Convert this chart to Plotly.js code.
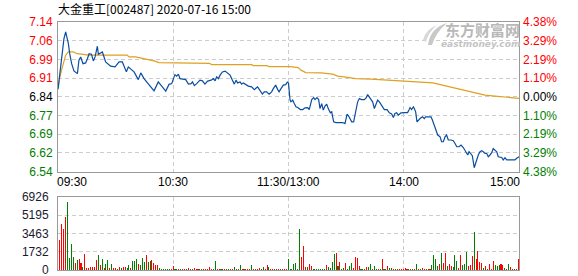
<!DOCTYPE html>
<html>
<head>
<meta charset="utf-8">
<script src="https://cdn.plot.ly/plotly-3.0.1.min.js"></script>
<style>
html,body{margin:0;padding:0;background:#fff;}
#chart{width:578px;height:276px;}
</style>
</head>
<body>
<div id="chart"></div>
<script>
// ---- data (minutes from 09:30; 120 = 11:30/13:00, 240 = 15:00) ----
const titleText = "大金重工[002487] 2020-07-16 15:00";
const prevClose = 6.84;

const priceTimes = [0,1.4,2.3,3.1,4.0,5.4,6.1,7.1,8.3,10.1,10.9,11.8,13.0,14.4,15.3,16.2,17.4,18.4,19.3,20.5,21.0,23.1,24.8,27.4,29.7,31.8,33.5,35.6,36.6,39.6,41.8,43.1,44.8,47.7,50.0,52.2,54.3,56.1,57.8,
59.2,60.1,60.9,61.8,62.7,63.5,65.3,66.5,67.9,69.3,70.0,71.0,72.2,73.9,75.2,76.5,77.9,79.7,80.9,81.8,82.6,83.5,84.4,85.6,87.0,88.2,89.6,90.8,91.8,92.7,93.5,94.8,95.6,96.5,97.7,99.1,100.8,102.2,103.9,105.2,106.4,107.4,108.6,109.9,111.2,112.1,113.3,114.4,115.1,116.1,117.3,118.5,119.4,120.0,120.3,120.8,
121.3,122.2,123.0,123.9,124.8,126.2,127.4,128.6,130.0,130.8,132.1,133.1,133.8,134.8,135.7,136.4,137.3,138.1,139.0,139.9,140.7,141.8,142.5,143.5,144.7,146.5,148.2,149.4,150.5,151.3,152.2,152.9,153.9,155.1,156.0,156.9,158.1,159.5,160.5,161.2,162.1,163.0,163.8,164.7,165.6,166.4,167.3,168.5,169.9,171.3,172.5,173.7,174.6,175.4,176.3,177.2,178.6,
180.6,182.0,182.7,183.3,184.1,185.0,185.5,186.2,186.9,187.6,188.5,189.7,190.7,191.4,194.2,194.9,195.7,196.6,197.7,198.9,199.7,200.6,201.5,202.3,203.2,204.6,205.8,206.7,207.6,208.8,209.8,211.0,212.2,213.3,214.0,214.8,215.7,216.2,216.7,217.4,218.1,218.8,219.7,220.6,221.4,222.3,223.2,224.0,224.9,225.8,226.6,227.5,228.4,229.2,230.3,231.0,231.8,232.7,233.6,234.5,237.9,238.8,239.7,240];
const prices = [6.870,6.953,7.013,7.073,7.100,7.053,7.013,6.973,6.944,6.933,6.987,7.000,6.973,6.976,6.993,7.013,7.011,6.984,7.000,7.043,7.011,7.020,6.980,6.963,6.960,6.980,6.980,6.940,6.960,6.940,6.909,6.936,6.913,6.887,6.864,6.900,6.880,6.863,6.890,
6.893,6.913,6.929,6.923,6.931,6.913,6.909,6.909,6.891,6.893,6.900,6.885,6.893,6.907,6.904,6.891,6.903,6.907,6.913,6.904,6.920,6.913,6.927,6.940,6.943,6.934,6.927,6.907,6.891,6.907,6.896,6.900,6.891,6.896,6.891,6.883,6.880,6.869,6.880,6.867,6.851,6.860,6.860,6.851,6.860,6.873,6.887,6.869,6.860,6.873,6.887,6.889,6.899,6.895,6.847,6.827,
6.820,6.827,6.813,6.800,6.797,6.789,6.789,6.796,6.797,6.789,6.829,6.837,6.829,6.837,6.829,6.793,6.813,6.787,6.803,6.811,6.793,6.776,6.780,6.740,6.737,6.737,6.737,6.733,6.771,6.763,6.753,6.740,6.740,6.787,6.820,6.833,6.829,6.829,6.837,6.849,6.840,6.829,6.820,6.793,6.813,6.827,6.820,6.807,6.789,6.789,6.776,6.771,6.757,6.773,6.776,6.767,6.776,
6.777,6.777,6.787,6.797,6.789,6.800,6.793,6.780,6.740,6.747,6.753,6.760,6.753,6.760,6.760,6.747,6.727,6.707,6.687,6.680,6.660,6.660,6.680,6.687,6.667,6.667,6.664,6.653,6.640,6.640,6.647,6.637,6.620,6.607,6.620,6.610,6.604,6.580,6.556,6.573,6.594,6.607,6.620,6.624,6.620,6.613,6.613,6.600,6.607,6.616,6.633,6.627,6.620,6.600,6.597,6.597,6.587,6.596,6.587,6.587,6.587,6.594,6.600,6.600];

const avgTimes = [0,1.0,2.3,3.2,4.0,5.4,8.0,10.0,13.0,16.0,36.0,37.0,40.4,44.8,47.4,50.0,52.6,79,80,101,101.5,108.6,110,121,125,126.5,129,137,143,145.6,149,155,163,171.6,181.7,195.2,204,210,214,216.2,219,222.3,227.5,234.5,240];
const avgPrices = [6.875,6.920,6.960,6.990,7.007,7.020,7.020,7.013,7.010,7.007,7.007,7.000,7.000,6.993,6.987,6.984,6.977,6.974,6.969,6.969,6.965,6.965,6.961,6.961,6.957,6.947,6.937,6.936,6.931,6.923,6.920,6.913,6.911,6.907,6.904,6.896,6.880,6.869,6.862,6.858,6.851,6.847,6.843,6.838,6.834];

// volume per minute, 09:31 .. 15:00 (240 bars)
const volumes = [
2835,4347,3874,5008,6457,1102,2425,1260,693,914,
1040,662,315,1512,189,189,284,284,284,945,
1418,441,1040,220,567,945,150,567,220,180,
120,284,180,250,284,220,473,220,851,851,
1071,599,441,1134,788,1418,788,851,914,630,
504,473,150,120,120,120,120,100,100,378,
100,100,95,100,100,120,95,189,100,95,
189,100,95,100,95,100,100,95,283,100,
95,882,100,95,100,95,100,100,95,100,
100,315,95,100,472,100,95,100,95,100,
472,100,95,100,189,100,315,100,472,315,
100,95,100,95,100,100,95,100,100,1040,
100,100,536,662,100,3874,1260,2268,280,280,
536,378,100,95,100,95,100,95,100,473,
280,150,756,1512,1607,378,756,100,150,662,
100,378,662,150,1229,1134,378,100,95,100,
280,330,567,100,378,95,100,95,1040,100,
95,378,180,180,100,95,100,95,100,95,
180,100,95,100,95,100,567,100,95,180,
100,95,100,100,473,1418,1040,378,567,1607,
662,1607,378,567,378,280,1418,851,180,1418,
473,567,1701,378,473,1323,3591,1040,1796,756,
662,180,378,100,567,100,851,473,378,473,
567,473,180,100,567,280,100,100,100,1040];
// U = up (red), D = down (green)
const volumeDirs = (
"UUUUDDDDUD"+"UUDUUUUUUU"+"DUDUDDUDUU"+"DUDUUDDUDD"+"DUDDDUDDUU"+
"UUDDDDDDUU"+"DDUDUUDUDU"+"UUUDDUUUUU"+"DDUUDUUDDU"+"UDUDDUUDUU"+
"DUDUUDDUUD"+"UUDUUDUUUD"+"DDDDDDUUUD"+"UUDDDDDDDU"+"DDDDUDUDDU"+
"DDDUUUUDDU"+"UDDUDDUDUD"+"DUDDUUDUUU"+"UUDUDUDUDU"+"UDUUDDDDUD"+
"UUDUUDDDUU"+"DDDUUUDUUU"+"UDUDUUUDDD"+"UUDUDUUDUU").split("");

const priceTickVals = [6.54,6.615,6.69,6.765,6.84,6.915,6.99,7.065,7.14];
const priceTickLabels = ["6.54","6.62","6.69","6.77","6.84","6.91","6.99","7.06","7.14"];
const pctTickLabels = ["4.38%","3.29%","2.19%","1.10%","0.00%","1.10%","2.19%","3.29%","4.38%"];
const volTickVals = [0,1732,3463,5195,6926];
const volTickLabels = ["0","1732","3463","5195","6926"];
const timeTickVals = [0,60,120,180,240];
const timeLabels = ["09:30","10:30","11:30/13:00","14:00","15:00"];

// ---- drawing ----
const RED = "#ff0000", GREEN = "#008000", BLACK = "#000000";
function colored(labels, vals){
  return labels.map((t,i)=>{
    const c = vals[i] > prevClose + 1e-6 ? RED : (vals[i] < prevClose - 1e-6 ? GREEN : BLACK);
    return '<span style="color:'+c+'">'+t+'</span>';
  });
}
const volX = volumes.map((v,i)=>i+1);
const volColors = volumeDirs.map(d => d === "U" ? RED : GREEN);

const traces = [
  {x: avgTimes, y: avgPrices, type:"scatter", mode:"lines", line:{color:"#e0a020", width:1.2}, xaxis:"x", yaxis:"y", hoverinfo:"skip"},
  {x: priceTimes, y: prices, type:"scatter", mode:"lines", line:{color:"#0a4ea0", width:1.2}, xaxis:"x", yaxis:"y", hoverinfo:"skip"},
  {x: volX, y: volumes, type:"bar", marker:{color: volColors, line:{width:0}}, width:0.55, xaxis:"x2", yaxis:"y2", hoverinfo:"skip"}
];

const gridStyle = {gridcolor:"#cccccc", gridwidth:1, griddash:"4px,3px"};
const lineStyle = {showline:true, linecolor:"#999999", linewidth:1, mirror:true, zeroline:false, ticks:""};
const labelFont = {family:"Liberation Sans, Arial, sans-serif", size:12, color:"#000"};

const annotations = timeLabels.map((t,i)=>({
  text:t, x:timeTickVals[i], xref:"x", y:6.54, yref:"y", showarrow:false,
  xanchor: i===0 ? "left" : (i===timeLabels.length-1 ? "right" : "center"),
  yanchor:"top", yshift:-1, xshift: i===0 ? -3 : (i===timeLabels.length-1 ? 3 : 0),
  font: labelFont
}));
annotations.push({text:"<b>东方财富网</b>", xref:"paper", yref:"paper", x:1.004, y:0.970, xanchor:"right", yanchor:"middle",
  showarrow:false, borderpad:0, font:{family:"Noto Sans CJK SC", size:15, color:"#b8b8b8"}});
annotations.push({text:"<b><i>eastmoney.com</i></b>", xref:"paper", yref:"paper", x:1.004, y:0.910, xanchor:"right", yanchor:"middle",
  showarrow:false, borderpad:0, font:{family:"DejaVu Sans, sans-serif", size:9, color:"#c4c4c4"}});

// watermark logo (decorative swoosh), paper coordinates
const logoShapes = [
  {type:"path", xref:"paper", yref:"paper", path:"M 0.8026 0.9073 Q 0.8069 0.9758 0.8438 0.9960 Q 0.8200 0.9597 0.8113 0.9073 Z",
    fillcolor:"#c8c8c8", line:{width:0}, layer:"above"},
  {type:"path", xref:"paper", yref:"paper", path:"M 0.7918 0.9274 Q 0.7961 0.9677 0.8221 0.9879 Q 0.8026 0.9556 0.7983 0.9194 Z",
    fillcolor:"#d8d8d8", line:{width:0}, layer:"above"}
];

const layout = {
  width:578, height:276,
  margin:{l:58, r:59, t:22, b:6, pad:0},
  paper_bgcolor:"#fff", plot_bgcolor:"#fff",
  showlegend:false,
  bargap:0,
  title:{text:titleText, x:58/578, xref:"container", xanchor:"left", y:1-10/276, yref:"container", yanchor:"middle",
    font:{family:"Noto Sans CJK SC, sans-serif", size:12, color:"#000"}},
  xaxis:Object.assign({domain:[0,1], range:[0,240], anchor:"y", tickvals:[60,120,180], showticklabels:false, showgrid:true}, gridStyle, lineStyle),
  yaxis:Object.assign({domain:[0.3964,1], range:[6.54,7.14], tickvals:priceTickVals, ticktext:colored(priceTickLabels, priceTickVals),
    showgrid:true, tickfont:labelFont, ticklabelstandoff:2, ticklabeloverflow:"allow"}, gridStyle, lineStyle),
  yaxis3:{overlaying:"y", side:"right", range:[6.54,7.14], tickvals:priceTickVals, ticktext:colored(pctTickLabels, priceTickVals),
    showgrid:false, zeroline:false, showline:false, ticks:"", tickfont:labelFont, ticklabelstandoff:3, ticklabeloverflow:"allow"},
  xaxis2:Object.assign({domain:[0,1], range:[0,240.4], anchor:"y2", tickvals:[60,120,180], showticklabels:false, showgrid:true}, gridStyle, lineStyle),
  yaxis2:Object.assign({domain:[0,0.2956], range:[0,6926], tickvals:volTickVals, ticktext:volTickLabels, showgrid:true,
    tickfont:{family:"Liberation Sans, Arial, sans-serif", size:12, color:"#1a1a2e"}, ticklabelstandoff:6, ticklabeloverflow:"allow"}, gridStyle, lineStyle),
  shapes: logoShapes,
  annotations: annotations
};
// an invisible trace so the right-hand percent axis is drawn
traces.push({x:[0], y:[prevClose], type:"scatter", mode:"markers", marker:{opacity:0}, xaxis:"x", yaxis:"y3", hoverinfo:"skip"});

Plotly.newPlot("chart", traces, layout, {staticPlot:true, displayModeBar:false});
</script>
</body>
</html>
